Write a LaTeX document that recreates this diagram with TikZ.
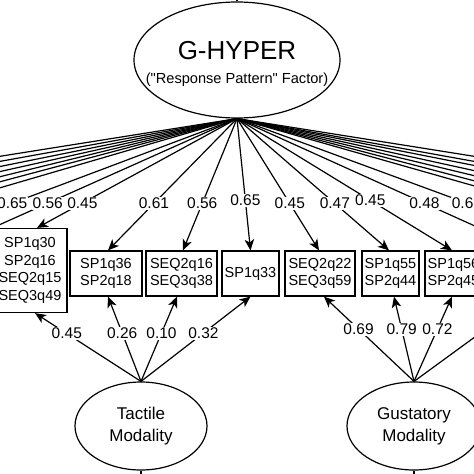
\documentclass[tikz,border=0pt]{standalone}
\usepackage{fontspec}
\setmainfont{Liberation Sans}[Ligatures=TeXOff]
\usetikzlibrary{arrows.meta,shapes.geometric}
\begin{document}
\begin{tikzpicture}[x=1pt,y=-1pt,
  conn/.style={line width=1.2pt},
  arr/.style={conn,-{Stealth[length=11pt,width=9.5pt,inset=3pt]}},
  ind/.style={draw,line width=1.2pt,rectangle,inner sep=0pt,align=center,font=\fontsize{14.5}{17.5}\selectfont},
  lat/.style={draw,line width=1.2pt,ellipse,inner sep=0pt},
  lab/.style={fill=white,inner sep=1pt,font=\fontsize{15.5}{18}\selectfont},
  stub/.style={line width=2.5pt}
]
\useasboundingbox (0,0) rectangle (474,474);
\clip (0,0) rectangle (474,474);

% latent factors
\node[lat, minimum width=206pt, minimum height=116pt] (g) at (237,60) {};
\node[anchor=base, font=\fontsize{26}{30}\selectfont] (gt) at (237,59.5) {G-HYPER};
\node[anchor=base, font=\fontsize{14.6}{17}\selectfont] (gs) at (237,83) {("Response Pattern" Factor)};
\node[lat, minimum width=132pt, minimum height=88pt, align=center, font=\fontsize{17}{22}\selectfont] (t) at (141,426) {Tactile\\Modality};
\node[lat, minimum width=134pt, minimum height=88pt, align=center, font=\fontsize{17}{22}\selectfont] (gu) at (414,426) {Gustatory\\Modality};

% indicators
\node[ind, minimum width=74pt, minimum height=84pt] (b1) at (30,270.5) {SP1q30\\SP2q16\\SEQ2q15\\SEQ3q49};
\node[ind, minimum width=72pt, minimum height=45pt] (b2) at (106,273.5) {SP1q36\\SP2q18};
\node[ind, minimum width=71pt, minimum height=45pt] (b3) at (181.5,273.5) {SEQ2q16\\SEQ3q38};
\node[ind, minimum width=57pt, minimum height=45pt] (b4) at (250.5,273.5) {SP1q33};
\node[ind, minimum width=70pt, minimum height=45pt] (b5) at (320,273.5) {SEQ2q22\\SEQ3q59};
\node[ind, minimum width=57pt, minimum height=45pt] (b6) at (390.5,273.5) {SP1q55\\SP2q44};
\node[ind, minimum width=57pt, minimum height=45pt] (b7) at (453.5,273.5) {SP1q56\\SP2q45};

% off-canvas targets
\coordinate (l1) at (-589,250);
\coordinate (l2) at (-491,250);
\coordinate (l3) at (-413,250);
\coordinate (l4) at (-351,250);
\coordinate (l5) at (-299,250);
\coordinate (l6) at (-256,250);
\coordinate (l7) at (-213,250);
\coordinate (l8) at (-112,250);
\coordinate (l9) at (-57,250);
\coordinate (r1) at (528,250);
\coordinate (r2) at (594,250);
\coordinate (r3) at (700,250);
\coordinate (r4) at (738,250);
\coordinate (r5) at (783,250);
\coordinate (r6) at (836,250);
\coordinate (r7) at (902,250);
\coordinate (r8) at (965,250);
\coordinate (r9) at (1063,250);
\coordinate (gx) at (531,296);

% G-HYPER loadings
\foreach \c in {l1,l2,l3,l4,l5,l6,l7,r3,r4,r5,r6,r7,r8,r9}
  \draw[arr] (g.south) -- (\c);
\draw[arr] (g.south) -- node[lab,pos=0.644] (n1) {0.65} (l8);
\draw[arr] (g.south) -- node[lab,pos=0.644] (n2) {0.56} (l9);
\draw[arr] (g.south) -- node[lab,pos=0.773] (n3) {0.45} ([xshift=7pt]b1.north);
\draw[arr] (g.south) -- node[lab,pos=0.644] (n4) {0.61} ([xshift=2pt]b2.north);
\draw[arr] (g.south) -- node[lab,pos=0.644] (n5) {0.56} ([xshift=1.5pt]b3.north);
\draw[arr] (g.south) -- node[lab,pos=0.62] (n6) {0.65} (b4.north);
\draw[arr] (g.south) -- node[lab,pos=0.644] (n7) {0.45} ([xshift=-1pt]b5.north);
\draw[arr] (g.south) -- node[lab,pos=0.644] (n8) {0.47} ([xshift=-1.5pt]b6.north);
\draw[arr] (g.south) -- node[lab,pos=0.62] (n9) {0.45} ([xshift=-1.5pt]b7.north);
\draw[arr] (g.south) -- node[lab,pos=0.644] (n10) {0.48} (r1);
\draw[arr] (g.south) -- node[lab,pos=0.644] (n11) {0.62} (r2);

% Tactile loadings
\draw[arr] (t.north) -- node[lab,pos=0.7] (m1) {0.45} ([xshift=5pt]b1.south);
\draw[arr] (t.north) -- node[lab,pos=0.57] (m2) {0.26} ([xshift=2pt]b2.south);
\draw[arr] (t.north) -- node[lab,pos=0.57] (m3) {0.10} ([xshift=-4.5pt]b3.south);
\draw[arr] (t.north) -- node[lab,pos=0.57] (m4) {0.32} (b4.south);

% Gustatory loadings
\draw[arr] (gu.north) -- node[lab,pos=0.616] (k1) {0.69} ([xshift=4pt]b5.south);
\draw[arr] (gu.north) -- node[lab,pos=0.616] (k2) {0.79} ([xshift=3.5pt]b6.south);
\draw[arr] (gu.north) -- node[lab,pos=0.616] (k3) {0.72} ([xshift=-1.5pt]b7.south);
\draw[arr] (gu.north) -- (gx);

% stubs leaving the canvas
\draw[stub] (g.north) -- ++(0,-10);
\draw[stub] (t.south) -- ++(0,10);
\draw[stub] (gu.south) -- ++(0,10);
\end{tikzpicture}
\end{document}
